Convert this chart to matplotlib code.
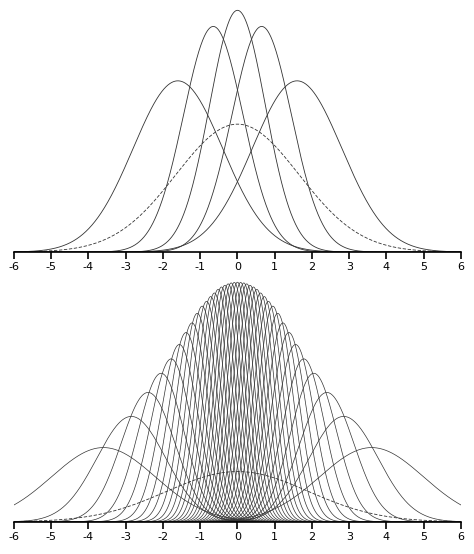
import numpy as np
import matplotlib
matplotlib.use("Agg")
import matplotlib.pyplot as plt

plt.rcParams["axes.unicode_minus"] = False

# top panel: centres, peak heights, widths
top_centers = [-1.6, -0.65, 0.0, 0.65, 1.6]
top_heights = [170, 224, 240, 224, 170]
top_sigmas = [1.2, 0.8, 0.75, 0.8, 1.2]
top_dashed = (0.0, 127, 1.65)

# bottom panel: half of a symmetric family (outer -> centre)
bot_half_centers = [3.6, 2.85, 2.4, 2.05, 1.78, 1.56, 1.38, 1.22, 1.08, 0.95,
                    0.83, 0.72, 0.62, 0.52, 0.43, 0.34, 0.25, 0.17, 0.085]
bot_half_heights = [0.31, 0.44, 0.54, 0.62, 0.68, 0.74, 0.79, 0.83, 0.87, 0.90,
                    0.92, 0.94, 0.955, 0.97, 0.98, 0.987, 0.993, 0.997, 0.999]
bot_peak = 724
bot_dashed = (0.0, 152, 1.9)

x = np.linspace(-6, 6, 1600)


def gauss(c, h, s):
    return h * np.exp(-(x - c) ** 2 / (2 * s * s))


def style(ax, ymax):
    ax.set_xlim(-6, 6)
    ax.set_ylim(0, ymax)
    for s in ("top", "left", "right"):
        ax.spines[s].set_visible(False)
    ax.spines["bottom"].set_linewidth(1.2)
    ax.set_yticks([])
    ax.set_xticks(range(-6, 7))
    ax.tick_params(axis="x", direction="out", length=5, width=1.2, labelsize=8, pad=2)


fig = plt.figure(figsize=(4.74, 5.54), dpi=100)
ax1 = fig.add_axes([0.0295, 0.545, 0.943, 0.44])
ax2 = fig.add_axes([0.0295, 0.058, 0.943, 0.435])

lw = 0.6
col = "#333333"
for c, h, s in zip(top_centers, top_heights, top_sigmas):
    ax1.plot(x, gauss(c, h, s), color=col, lw=lw)
ax1.plot(x, gauss(*top_dashed), color=col, lw=lw, ls=(0, (4, 2)))
style(ax1, 242)

centers = [-c for c in bot_half_centers] + [0.0] + bot_half_centers[::-1]
heights = bot_half_heights + [1.0] + bot_half_heights[::-1]
for c, f in zip(centers, heights):
    ax2.plot(x, gauss(c, f * bot_peak, 0.35 * f ** -1.18), color=col, lw=0.5)
ax2.plot(x, gauss(*bot_dashed), color=col, lw=lw, ls=(0, (4, 2)))
style(ax2, 728)

fig.savefig("out.png", dpi=100)
